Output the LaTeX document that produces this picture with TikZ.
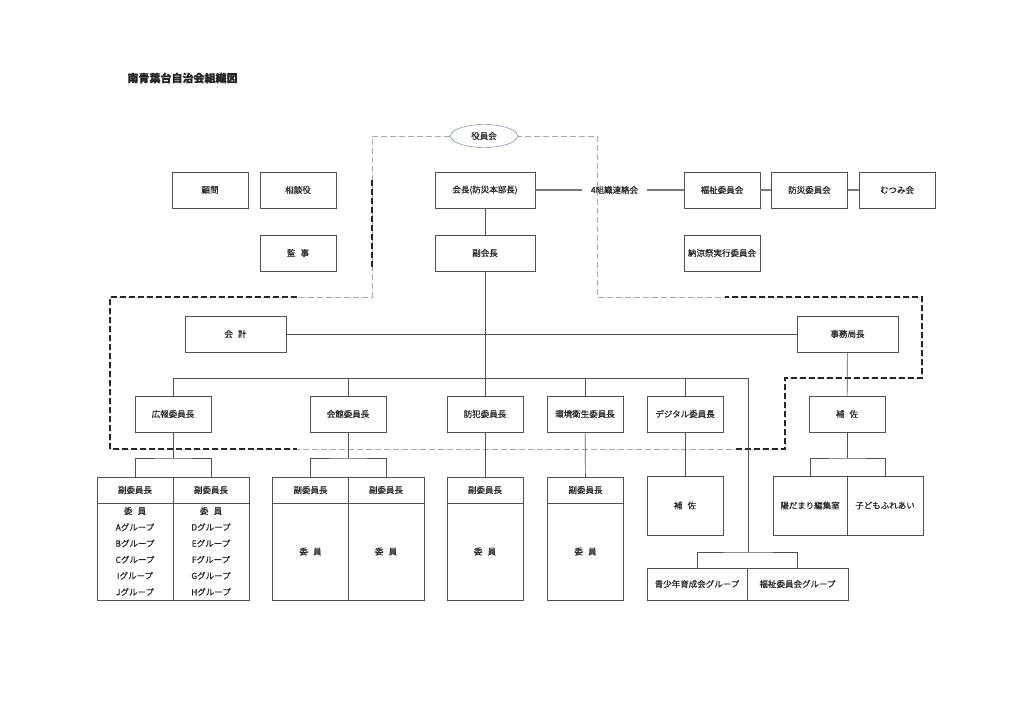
\documentclass[tikz,border=0pt]{standalone}
\usepackage{fontspec}
\setmainfont{Noto Sans CJK JP}[FakeBold=0.6]
\usetikzlibrary{positioning}
\usetikzlibrary{shapes.geometric}

\definecolor{linegray}{HTML}{505050}
\definecolor{dashgray}{HTML}{A8A8A8}
\definecolor{thickgray}{HTML}{7A7A7A}
\definecolor{ovalblue}{HTML}{4F6E9E}

\tikzset{
    box/.style={draw=linegray, rectangle, inner sep=0pt, minimum width=76pt, minimum height=36pt, align=center},
    widebox/.style={box, minimum width=101pt},
    cell/.style={box, minimum height=26pt},
    body/.style={box, minimum height=97pt},
    conn/.style={draw=linegray, line width=0.7pt},
    bold line/.style={draw=thickgray, line width=2.6pt},
    gray dash/.style={draw=dashgray, line width=1pt, dash pattern=on 6pt off 3pt},
    black dash/.style={draw=black!85, line width=1.6pt, dash pattern=on 6pt off 3pt},
}

\begin{document}
\begin{tikzpicture}[x=1pt, y=-1pt, node distance=87.5pt, every node/.style={font=\fontsize{8.5}{10}\selectfont, text=black!85}]
    \useasboundingbox (0,0) rectangle (1024,725);

    \node (title) [anchor=west, font=\fontsize{11}{13}\selectfont\bfseries] at (124,78) {南青葉台自治会組織図};

    % top rows
    \node (yakuin) [draw=ovalblue, ellipse, inner sep=0pt, minimum width=67pt, minimum height=23pt] at (484,136) {役員会};
    \node (komon) [box] at (210,190) {顧問};
    \node (sodan) [box] at (298,190) {相談役};
    \node (kansa) [box] at (298,253) {監\hspace{0.6em}事};
    \node (kaicho) [box, minimum width=100pt] at (485,190) {会長(防災本部長)};
    \node (fukukaicho) [box, minimum width=100pt] at (485,253) {副会長};
    \node (renraku) [inner sep=0pt, minimum width=65pt] at (614.5,190) {4組織連絡会};
    \node (fukushi) [box] at (722,190) {福祉委員会};
    \node (bousai) [box, right of=fukushi] {防災委員会};
    \node (mutsumi) [box, right of=bousai] {むつみ会};
    \node (noryo) [box] at (722,253) {納涼祭実行委員会};

    \node (kaikei) [widebox] at (235.5,334) {会\hspace{0.6em}計};
    \node (jimu) [widebox] at (847.5,334) {事務局長};

    % committee heads
    \node (koho) [box] at (173,414) {広報委員長};
    \node (kaikan) [box] at (348,414) {会館委員長};
    \node (bouhan) [box] at (485,414) {防犯委員長};
    \node (kankyo) [box] at (585,414) {環境衛生委員長};
    \node (digital) [box] at (685,414) {デジタル委員長};
    \node (hosa) [box] at (847,414) {補\hspace{0.6em}佐};

    % tables
    \node (kohoH1) [cell] at (135,490) {副委員長};
    \node (kohoH2) [cell] at (211,490) {副委員長};
    \node (kohoB1) [body, font=\fontsize{8.5}{16.2}\selectfont] at (135,551.5) {委\hspace{0.6em}員\\Aグループ\\Bグループ\\Cグループ\\Iグループ\\Jグループ};
    \node (kohoB2) [body, font=\fontsize{8.5}{16.2}\selectfont] at (211,551.5) {委\hspace{0.6em}員\\Dグループ\\Eグループ\\Fグループ\\Gグループ\\Hグループ};

    \node (kaikanH1) [cell] at (310.5,490) {副委員長};
    \node (kaikanH2) [cell] at (386,490) {副委員長};
    \node (kaikanB1) [body] at (310.5,551.5) {委\hspace{0.6em}員};
    \node (kaikanB2) [body] at (386,551.5) {委\hspace{0.6em}員};

    \node (bouhanH) [cell] at (485,490) {副委員長};
    \node (bouhanB) [body] at (485,551.5) {委\hspace{0.6em}員};
    \node (kankyoH) [cell] at (585.5,490) {副委員長};
    \node (kankyoB) [body] at (585.5,551.5) {委\hspace{0.6em}員};

    \node (dhosa) [box, minimum height=59pt] at (685,505.5) {補\hspace{0.6em}佐};
    \node (hidamari) [box, minimum width=74pt, minimum height=59pt] at (810,505.5) {陽だまり編集室};
    \node (kodomo) [box, minimum height=59pt] at (885,505.5) {子どもふれあい};

    \node (seishonen) [box, minimum width=100pt, minimum height=32pt] at (697,584) {青少年育成会グループ};
    \node (fukushiG) [widebox, minimum height=32pt] at (797.5,584) {福祉委員会グループ};

    % dashed outline
    \draw[gray dash] (yakuin.west) -- (372,136) -- (372,297) -- (110,297) -- (110,449) -- (785,449) -- (785,378) -- (922,378) -- (922,297) -- (597,297) -- (597,136) -- (yakuin.east);
    \draw[black dash] (297,297) -- (110,297) -- (110,449) -- (297,449);
    \draw[black dash] (736,449) -- (785,449) -- (785,378) -- (922,378) -- (922,297) -- (725,297);
    \draw[black dash, line width=1.2pt] (372,180) -- (372,270);

    % connectors
    \draw[bold line] (kaicho) -- (renraku) -- (fukushi) -- (bousai) -- (mutsumi);
    \draw[conn] (kaicho) -- (fukukaicho);
    \draw[conn] (fukukaicho) -- (bouhan);
    \draw[conn] (kaikei) -- (jimu);
    \draw[conn] (jimu) -- (hosa);

    \coordinate (busL) at (173,378);
    \coordinate (busR) at (748,378);
    \coordinate (grpTop) at (748,552);
    \draw[conn] (koho.north) -- (busL) -- (busR) -- (grpTop);
    \draw[conn] (kaikan.north) -- (kaikan.north |- busL);
    \draw[conn] (kankyo.north) -- (kankyo.north |- busL);
    \draw[conn] (digital.north) -- (digital.north |- busL);

    \coordinate (kohoJ) at (173,458);
    \coordinate (kaikanJ) at (348,458);
    \coordinate (hosaJ) at (847,458);
    \draw[conn] (koho) -- (kohoJ);
    \draw[conn] (kohoH1.north) |- (kohoJ) -| (kohoH2.north);
    \draw[conn] (kaikan) -- (kaikanJ);
    \draw[conn] (kaikanH1.north) |- (kaikanJ) -| (kaikanH2.north);
    \draw[conn] (bouhan) -- (bouhanH);
    \draw[conn] (kankyo) -- (kankyoH);
    \draw[conn] (digital) -- (dhosa);
    \draw[conn] (hosa) -- (hosaJ);
    \draw[conn] (hidamari.north) |- (hosaJ) -| (kodomo.north);
    \draw[conn] (seishonen.north) |- (grpTop) -| (fukushiG.north);

\end{tikzpicture}
\end{document}
